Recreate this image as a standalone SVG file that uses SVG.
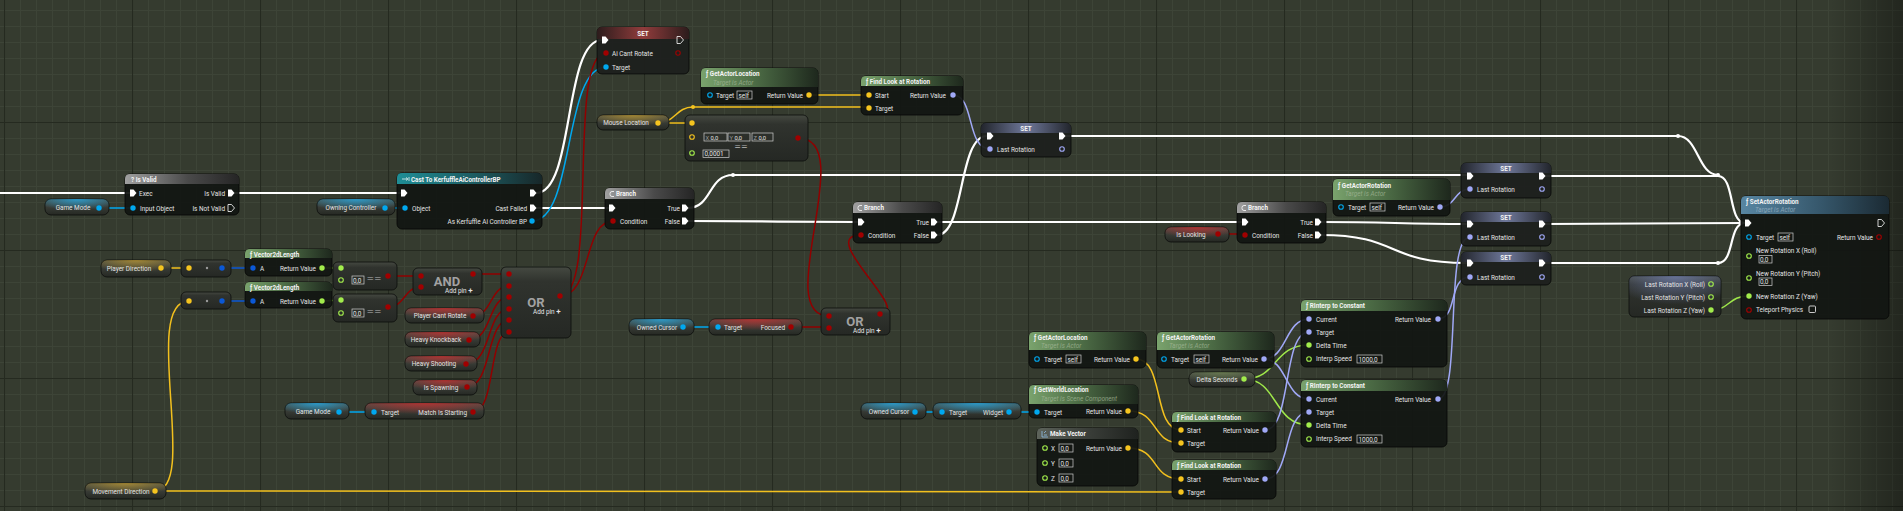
<svg xmlns="http://www.w3.org/2000/svg" width="1903" height="511" viewBox="0 0 1903 511">
<defs>
<pattern id="minor" width="16" height="16" patternUnits="userSpaceOnUse" x="4" y="10"><path d="M0,0.5H16M0.5,0V16" stroke="#3d4437" stroke-width="1" fill="none"/></pattern>
<pattern id="major" width="128" height="128" patternUnits="userSpaceOnUse" x="4" y="-6"><path d="M0,0.5H128M0.5,0V128" stroke="#252a20" stroke-width="1.2" fill="none"/></pattern>
<linearGradient id="gFunc" x1="0" y1="0" x2="1" y2="0"><stop offset="0" stop-color="#7aa36d"/><stop offset=".45" stop-color="#4d6d46"/><stop offset="1" stop-color="#1e281d"/></linearGradient>
<linearGradient id="gGray" x1="0" y1="0" x2="1" y2="0"><stop offset="0" stop-color="#5d635b"/><stop offset=".5" stop-color="#3a3e39"/><stop offset="1" stop-color="#1f221f"/></linearGradient>
<linearGradient id="gMacro" x1="0" y1="0" x2="1" y2="0"><stop offset="0" stop-color="#a0a0a0"/><stop offset=".55" stop-color="#4a4a4a"/><stop offset="1" stop-color="#252525"/></linearGradient>
<linearGradient id="gCast" x1="0" y1="0" x2="1" y2="0"><stop offset="0" stop-color="#1f8e96"/><stop offset=".55" stop-color="#1d5a60"/><stop offset="1" stop-color="#172729"/></linearGradient>
<linearGradient id="gImp" x1="0" y1="0" x2="1" y2="0"><stop offset="0" stop-color="#5886a2"/><stop offset=".55" stop-color="#35566a"/><stop offset="1" stop-color="#1b2a33"/></linearGradient>
<linearGradient id="gSet" x1="0" y1="0" x2="1" y2="0"><stop offset="0" stop-color="#22252c"/><stop offset=".5" stop-color="#6f789a"/><stop offset="1" stop-color="#22252c"/></linearGradient>
<linearGradient id="gSetR" x1="0" y1="0" x2="1" y2="0"><stop offset="0" stop-color="#2c1c1c"/><stop offset=".5" stop-color="#903c3c"/><stop offset="1" stop-color="#2c1c1c"/></linearGradient>
<linearGradient id="pill" x1="0" y1="0" x2="0" y2="1"><stop offset="0" stop-color="#4b4f48"/><stop offset="1" stop-color="#252823"/></linearGradient>
<linearGradient id="cg" x1="0" y1="0" x2="0" y2="1"><stop offset="0" stop-color="#454941"/><stop offset=".2" stop-color="#30332e"/><stop offset="1" stop-color="#252824"/></linearGradient>
<radialGradient id="glR" cx=".5" cy="0" r=".7"><stop offset="0" stop-color="#c03030" stop-opacity=".85"/><stop offset="1" stop-color="#c03030" stop-opacity="0"/></radialGradient>
<radialGradient id="glB" cx=".5" cy="0" r=".7"><stop offset="0" stop-color="#28a8e0" stop-opacity=".85"/><stop offset="1" stop-color="#28a8e0" stop-opacity="0"/></radialGradient>
<radialGradient id="glY" cx=".5" cy="0" r=".7"><stop offset="0" stop-color="#c8a030" stop-opacity=".7"/><stop offset="1" stop-color="#c8a030" stop-opacity="0"/></radialGradient>
<radialGradient id="glG" cx=".5" cy="0" r=".7"><stop offset="0" stop-color="#8fb060" stop-opacity=".45"/><stop offset="1" stop-color="#8fb060" stop-opacity="0"/></radialGradient>
<radialGradient id="glV" cx=".5" cy="0" r=".7"><stop offset="0" stop-color="#8090d0" stop-opacity=".6"/><stop offset="1" stop-color="#8090d0" stop-opacity="0"/></radialGradient>
<linearGradient id="vig" x1="0" y1="0" x2="1" y2="0"><stop offset="0" stop-color="#000" stop-opacity="0"/><stop offset="1" stop-color="#000" stop-opacity=".35"/></linearGradient>
<path id="ex" d="M-3,-3.5H0.5L3.5,0L0.5,3.5H-3Z"/>
</defs>
<style>
.t{font-family:Roboto,"Liberation Sans",sans-serif;font-size:6.4px;fill:#e4e4e4}
.tb{font-weight:bold;fill:#f4f4f4;font-size:6.3px}
.ts{font-style:italic;fill:#a4b898;opacity:.75}
.m{text-anchor:middle}
.e{text-anchor:end}
.big{font-family:Roboto,"Liberation Sans",sans-serif;font-size:13px;font-weight:bold;fill:#a2a2a2;text-anchor:middle}
.eq{font-family:"DejaVu Sans",sans-serif;font-size:9px;fill:#b8b8b8;text-anchor:middle}
.bx{fill:none;stroke:#cfcfcf;stroke-width:.7}
.body{fill:#121512;fill-opacity:.93;stroke:#050605;stroke-width:.8}
.cb{fill:url(#cg);stroke:#0b0c0b;stroke-width:.8}
.sb{fill:#1d201d;fill-opacity:.95;stroke:#060706;stroke-width:.8}
.pl{fill:url(#pill);stroke:#0b0c0b;stroke-width:.8}
.w{fill:none;stroke-width:1.5}
.wx{fill:none;stroke:#ffffff;stroke-width:2.2}
.wr{stroke:#900000}.wo{stroke:#00a8ef}.wy{stroke:#f2c01e}.wg{stroke:#9fe84a}.wv{stroke:#a0a8f6}.wd{stroke:#0b58d6}
.xf{fill:#ffffff}.xh{fill:none;stroke:#ffffff;stroke-width:.8}
.pr{fill:#a00000}.po{fill:#00a8ef}.py{fill:#f5c41f}.pg{fill:#a2ec4c}.pv{fill:#a0a8f6}.pd{fill:#0b58d6}
.hr{fill:none;stroke:#a00000;stroke-width:1.1}.ho{fill:none;stroke:#00a8ef;stroke-width:1.1}.hy{fill:none;stroke:#f5c41f;stroke-width:1.1}.hg{fill:none;stroke:#a2ec4c;stroke-width:1.1}.hv{fill:none;stroke:#a0a8f6;stroke-width:1.1}
.dot{fill:#ffffff}
</style>

<g id="background">
<rect width="1903" height="511" fill="#353b2f"/>
<rect width="1903" height="511" fill="url(#minor)"/>
<rect width="1903" height="511" fill="url(#major)"/>
<rect x="1830" width="73" height="511" fill="url(#vig)"/>
</g>

<g id="connectors">
<path class="wx" d="M0,193H130"/>
<path class="wx" d="M234,193H401"/>
<path class="wx" d="M536,193C575,193 563,40 602,40"/>
<path class="wx" d="M536,208H609"/>
<path class="wx" d="M688,208C712,208 708,175 733,175H1467"/>
<path class="wx" d="M688,221C760,221 790,222 858,222"/>
<path class="wx" d="M937,222H1242"/>
<path class="wx" d="M937,235C965,235 958,136 987,136"/>
<path class="wx" d="M1065,136H1678C1698,136 1698,175 1718,175"/>
<path class="wx" d="M1545,176H1718C1735,176 1728,223 1745,223"/>
<path class="wx" d="M1321,222C1390,222 1400,224 1467,224"/>
<path class="wx" d="M1321,235C1400,235 1385,263 1467,263"/>
<path class="wx" d="M1545,224C1640,224 1680,223 1745,223"/>
<path class="wx" d="M1545,263H1718C1735,263 1728,223 1745,223"/>
<circle class="dot" cx="733" cy="175" r="2"/>
<circle class="dot" cx="1678" cy="136" r="2"/>
<circle class="dot" cx="1718" cy="175" r="2"/>
<circle class="dot" cx="1718" cy="263" r="2"/>
<path class="w wo" d="M99,208H133"/>
<path class="w wo" d="M385,208H405"/>
<path class="w wo" d="M532,221C575,221 563,67 606,67"/>
<path class="w wo" d="M683,327H718"/>
<path class="w wo" d="M339,412H374"/>
<path class="w wo" d="M915,412H942"/>
<path class="w wo" d="M1009,412H1037"/>
<path class="w wr" d="M560,296C600,296 566,53 606,53"/>
<path class="w wr" d="M560,296C592,296 583,221 613,221"/>
<path class="w wr" d="M388,276H421"/>
<path class="w wr" d="M388,307C405,307 404,287 421,287"/>
<path class="w wr" d="M473,274H509"/>
<path class="w wr" d="M473,316C492,316 490,286 509,286"/>
<path class="w wr" d="M469,340C492,340 488,297 509,297"/>
<path class="w wr" d="M466,364C492,364 486,309 509,309"/>
<path class="w wr" d="M467,387C492,387 486,320 509,320"/>
<path class="w wr" d="M473,412C496,412 488,332 509,332"/>
<path class="w wr" d="M798,138C860,138 770,316 829,316"/>
<path class="w wr" d="M791,327H829"/>
<path class="w wr" d="M880,314C915,314 815,235 861,235"/>
<path class="w wr" d="M1218,234H1245"/>
<path class="w wy" d="M161,268H189"/>
<path class="w wy" d="M155,491C200,491 140,301 189,301"/>
<path class="w wy" d="M155,491C600,491 900,492 1181,492"/>
<path class="w wy" d="M658,123C675,123 676,107 693,107H869"/>
<path class="w wy" d="M658,123H692"/>
<path class="w wy" d="M809,95H869"/>
<path class="w wy" d="M1136,359C1165,359 1152,430 1181,430"/>
<path class="w wy" d="M1128,411C1160,411 1150,443 1181,443"/>
<path class="w wy" d="M1128,448C1160,448 1150,479 1181,479"/>
<circle cx="693" cy="107" r="2" class="py"/>
<path class="w wd" d="M222,268H253"/>
<path class="w wd" d="M222,301H253"/>
<path class="w wg" d="M322,268H341"/>
<path class="w wg" d="M322,301C332,301 331,300 341,300"/>
<path class="w wg" d="M1244,379C1278,379 1273,345 1309,345"/>
<path class="w wg" d="M1244,379C1278,379 1273,425 1309,425"/>
<path class="w wg" d="M1711,310C1730,310 1728,296 1749,296"/>
<path class="w wv" d="M953,95C975,95 966,149 990,149"/>
<path class="w wv" d="M1440,207C1456,207 1454,189 1470,189"/>
<path class="w wv" d="M1264,359C1287,359 1285,319 1309,319"/>
<path class="w wv" d="M1264,359C1287,359 1285,399 1309,399"/>
<path class="w wv" d="M1265,430C1292,430 1282,332 1309,332"/>
<path class="w wv" d="M1265,479C1292,479 1282,412 1309,412"/>
<path class="w wv" d="M1438,319C1458,319 1448,277 1470,277"/>
<path class="w wv" d="M1438,399C1462,399 1444,237 1470,237"/>
</g>

<g id="n-gamemode1"><rect class="pl" x="45" y="199" width="64" height="16" rx="6"/><rect x="45" y="199" width="64" height="16" rx="6" fill="url(#glB)"/><text class="t m" x="73" y="209.5">Game Mode</text><circle class="po" cx="99" cy="208" r="2.7"/></g>

<g id="n-isvalid"><rect class="body" x="125" y="174" width="114" height="41" rx="5"/><path d="M125,184V179Q125,174 130,174H234Q239,174 239,179V184Z" fill="url(#gMacro)"/>
<text class="t tb" x="131" y="182">?  Is Valid</text>
<use href="#ex" x="133" y="193" class="xf"/><text class="t" x="139" y="195.5">Exec</text>
<text class="t e" x="225" y="195.5">Is Valid</text><use href="#ex" x="231" y="193" class="xf"/>
<circle class="po" cx="133" cy="208" r="2.7"/><text class="t" x="140" y="210.5">Input Object</text>
<text class="t e" x="225" y="210.5">Is Not Valid</text><use href="#ex" x="231" y="208" class="xh"/></g>

<g id="n-owningcontroller"><rect class="pl" x="317" y="199" width="78" height="16" rx="6"/><rect x="317" y="199" width="78" height="16" rx="6" fill="url(#glB)"/><text class="t m" x="351" y="209.5">Owning Controller</text><circle class="po" cx="385" cy="208" r="2.7"/></g>

<g id="n-cast"><rect class="body" x="397" y="173" width="145" height="56" rx="5"/><path d="M397,184V178Q397,173 402,173H537Q542,173 542,178V184Z" fill="url(#gCast)"/>
<path d="M402,179H407M406,177.5L408,179L406,180.5M409,177V181" stroke="#fff" stroke-width=".7" fill="none"/>
<text class="t tb" x="411" y="181.5">Cast To KerfuffleAiControllerBP</text>
<use href="#ex" x="404" y="193" class="xf"/><use href="#ex" x="533" y="193" class="xf"/>
<circle class="po" cx="405" cy="208" r="2.7"/><text class="t" x="412" y="210.5">Object</text>
<text class="t e" x="527" y="210.5">Cast Failed</text><use href="#ex" x="533" y="208" class="xf"/>
<text class="t e" x="527" y="223.5">As Kerfuffle Ai Controller BP</text><circle class="po" cx="532" cy="221" r="2.7"/></g>

<g id="n-set-aicantrotate"><rect class="sb" x="597" y="27" width="92" height="47" rx="5"/><path d="M597,39V32Q597,27 602,27H684Q689,27 689,32V39Z" fill="url(#gSetR)"/>
<text class="t tb m" x="643" y="35.5">SET</text>
<use href="#ex" x="605" y="40" class="xf"/><use href="#ex" x="680" y="40" class="xh"/>
<circle class="pr" cx="606" cy="53" r="2.7"/><text class="t" x="612" y="55.5">Ai Cant Rotate</text><circle class="hr" cx="678" cy="53" r="2.2"/>
<circle class="po" cx="606" cy="67" r="2.7"/><text class="t" x="612" y="69.5">Target</text></g>

<g id="n-mouselocation"><rect class="pl" x="597" y="115" width="72" height="15" rx="6"/><rect x="597" y="115" width="72" height="15" rx="6" fill="url(#glY)"/><text class="t m" x="626" y="125">Mouse Location</text><circle class="py" cx="658" cy="123" r="2.7"/></g>

<g id="n-getactorlocation1"><rect class="body" x="701" y="68" width="117" height="36" rx="5"/><path d="M701,87V73Q701,68 706,68H813Q818,68 818,73V87Z" fill="url(#gFunc)"/>
<text class="t tb" x="706" y="76">ƒ GetActorLocation</text><text class="t ts" x="713" y="84.5">Target is Actor</text>
<circle class="ho" cx="710" cy="95" r="2.3"/><text class="t" x="716" y="97.5">Target</text><rect class="bx" x="737" y="91" width="15" height="8"/><text class="t" x="738.5" y="97.5">self</text>
<text class="t e" x="803" y="97.5">Return Value</text><circle class="py" cx="809" cy="95" r="2.7"/></g>

<g id="n-findlook1"><rect class="body" x="861" y="76" width="102" height="39" rx="5"/><path d="M861,86V81Q861,76 866,76H958Q963,76 963,81V86Z" fill="url(#gFunc)"/>
<text class="t tb" x="866" y="83.5">ƒ Find Look at Rotation</text>
<circle class="py" cx="869" cy="95" r="2.7"/><text class="t" x="875" y="97.5">Start</text>
<circle class="py" cx="869" cy="108" r="2.7"/><text class="t" x="875" y="110.5">Target</text>
<text class="t e" x="946" y="97.5">Return Value</text><circle class="pv" cx="953" cy="95" r="2.7"/></g>

<g id="n-vecequal"><rect class="cb" x="685" y="115" width="123" height="46" rx="5"/>
<circle class="py" cx="692" cy="123" r="2.7"/>
<circle class="hy" cx="692" cy="137" r="2.3"/>
<rect class="bx" x="704" y="133" width="23" height="8"/><text class="t" x="705.5" y="139.5" style="font-size:5.8px"><tspan fill="#999">X</tspan> 0,0</text>
<rect class="bx" x="728" y="133" width="22" height="8"/><text class="t" x="729.5" y="139.5" style="font-size:5.8px"><tspan fill="#999">Y</tspan> 0,0</text>
<rect class="bx" x="752" y="133" width="21" height="8"/><text class="t" x="753.5" y="139.5" style="font-size:5.8px"><tspan fill="#999">Z</tspan> 0,0</text>
<text class="eq" x="741" y="148.5" style="font-size:8px">==</text>
<circle class="hg" cx="692" cy="153" r="2.3"/><rect class="bx" x="703" y="150" width="26" height="7.5"/><text class="t" x="704.5" y="156">0,0001</text>
<circle class="pr" cx="798" cy="138" r="2.7"/></g>

<g id="n-branch1"><rect class="body" x="605" y="188" width="89" height="41" rx="5"/><path d="M605,199V193Q605,188 610,188H689Q694,188 694,193V199Z" fill="url(#gMacro)"/>
<path d="M614,191.5H612Q610,191.5 610,193.5V194.5Q610,196.5 612,196.5H614" stroke="#fff" stroke-width=".8" fill="none"/>
<text class="t tb" x="616" y="196">Branch</text>
<use href="#ex" x="612" y="208" class="xf"/><circle class="pr" cx="613" cy="221" r="2.7"/><text class="t" x="620" y="223.5">Condition</text>
<text class="t e" x="680" y="210.5">True</text><use href="#ex" x="685" y="208" class="xf"/>
<text class="t e" x="680" y="223.5">False</text><use href="#ex" x="685" y="221" class="xf"/></g>

<g id="n-playerdirection"><rect class="pl" x="101" y="260" width="70" height="17" rx="6"/><rect x="101" y="260" width="70" height="17" rx="6" fill="url(#glY)"/><text class="t m" x="129" y="270.5">Player Direction</text><circle class="py" cx="161" cy="268" r="2.7"/></g>

<g id="n-dot1"><rect class="cb" x="181" y="260" width="50" height="17" rx="5"/><circle class="py" cx="189" cy="268" r="2.7"/><circle cx="207" cy="268" r="1.2" fill="#9a9a9a"/><circle class="pd" cx="222" cy="268" r="2.7"/></g>
<g id="n-dot2"><rect class="cb" x="181" y="292" width="50" height="17" rx="5"/><circle class="py" cx="189" cy="301" r="2.7"/><circle cx="207" cy="301" r="1.2" fill="#9a9a9a"/><circle class="pd" cx="222" cy="301" r="2.7"/></g>

<g id="n-v2dlength1"><rect class="body" x="245" y="249" width="87" height="27" rx="5"/><path d="M245,258V254Q245,249 250,249H327Q332,249 332,254V258Z" fill="url(#gFunc)"/>
<text class="t tb" x="250" y="256.5">ƒ Vector2dLength</text>
<circle class="pd" cx="253" cy="268" r="2.7"/><text class="t" x="260" y="270.5">A</text>
<text class="t e" x="316" y="270.5">Return Value</text><circle class="pg" cx="322" cy="268" r="2.7"/></g>
<g id="n-v2dlength2"><rect class="body" x="245" y="282" width="87" height="26" rx="5"/><path d="M245,291V287Q245,282 250,282H327Q332,282 332,287V291Z" fill="url(#gFunc)"/>
<text class="t tb" x="250" y="289.5">ƒ Vector2dLength</text>
<circle class="pd" cx="253" cy="301" r="2.7"/><text class="t" x="260" y="303.5">A</text>
<text class="t e" x="316" y="303.5">Return Value</text><circle class="pg" cx="322" cy="301" r="2.7"/></g>

<g id="n-eq1"><rect class="cb" x="333" y="262" width="64" height="28" rx="5"/><circle class="pg" cx="341" cy="268" r="2.7"/><circle class="hg" cx="341" cy="280" r="2.3"/><rect class="bx" x="352" y="276" width="12" height="8"/><text class="t" x="353" y="282.5">0,0</text><text class="eq" x="374" y="281">==</text><circle class="pr" cx="388" cy="276" r="2.7"/></g>
<g id="n-eq2"><rect class="cb" x="333" y="294" width="64" height="28" rx="5"/><circle class="pg" cx="341" cy="300" r="2.7"/><circle class="hg" cx="341" cy="313" r="2.3"/><rect class="bx" x="352" y="309" width="12" height="8"/><text class="t" x="353" y="315.5">0,0</text><text class="eq" x="374" y="314">==</text><circle class="pr" cx="388" cy="307" r="2.7"/></g>

<g id="n-and"><rect class="cb" x="413" y="268" width="69" height="27" rx="5"/><text class="big" x="447" y="286">AND</text><text class="t" x="445" y="293">Add pin <tspan font-weight="bold" font-size="8">+</tspan></text>
<circle class="pr" cx="421" cy="276" r="2.7"/><circle class="pr" cx="421" cy="287" r="2.7"/><circle class="pr" cx="473" cy="274" r="2.7"/></g>

<g id="n-or1"><rect class="cb" x="501" y="267" width="70" height="71" rx="5"/><text class="big" x="536" y="307">OR</text><text class="t" x="533" y="314">Add pin <tspan font-weight="bold" font-size="8">+</tspan></text>
<circle class="pr" cx="509" cy="274" r="2.7"/><circle class="pr" cx="509" cy="286" r="2.7"/><circle class="pr" cx="509" cy="297" r="2.7"/><circle class="pr" cx="509" cy="309" r="2.7"/><circle class="pr" cx="509" cy="320" r="2.7"/><circle class="pr" cx="509" cy="332" r="2.7"/><circle class="pr" cx="560" cy="296" r="2.7"/></g>

<g id="n-playercantrotate"><rect class="pl" x="405" y="308" width="79" height="15" rx="6"/><rect x="405" y="308" width="79" height="15" rx="6" fill="url(#glR)"/><text class="t m" x="440" y="318">Player Cant Rotate</text><circle class="pr" cx="473" cy="316" r="2.7"/></g>
<g id="n-heavyknockback"><rect class="pl" x="405" y="332" width="75" height="15" rx="6"/><rect x="405" y="332" width="75" height="15" rx="6" fill="url(#glR)"/><text class="t m" x="436" y="342">Heavy Knockback</text><circle class="pr" cx="469" cy="340" r="2.7"/></g>
<g id="n-heavyshooting"><rect class="pl" x="405" y="356" width="72" height="15" rx="6"/><rect x="405" y="356" width="72" height="15" rx="6" fill="url(#glR)"/><text class="t m" x="434" y="366">Heavy Shooting</text><circle class="pr" cx="466" cy="364" r="2.7"/></g>
<g id="n-isspawning"><rect class="pl" x="413" y="380" width="64" height="15" rx="6"/><rect x="413" y="380" width="64" height="15" rx="6" fill="url(#glR)"/><text class="t m" x="441" y="390">Is Spawning</text><circle class="pr" cx="467" cy="387" r="2.7"/></g>

<g id="n-gamemode2"><rect class="pl" x="285" y="403" width="64" height="16" rx="6"/><rect x="285" y="403" width="64" height="16" rx="6" fill="url(#glB)"/><text class="t m" x="313" y="413.5">Game Mode</text><circle class="po" cx="339" cy="412" r="2.7"/></g>
<g id="n-matchisstarting"><rect class="pl" x="365" y="403" width="119" height="16" rx="6"/><rect x="365" y="403" width="119" height="16" rx="6" fill="url(#glR)"/><circle class="po" cx="374" cy="412" r="2.7"/><text class="t" x="381" y="414.5">Target</text><text class="t e" x="467" y="414.5">Match Is Starting</text><circle class="pr" cx="473" cy="412" r="2.7"/></g>

<g id="n-movementdirection"><rect class="pl" x="85" y="483" width="81" height="16" rx="6"/><rect x="85" y="483" width="81" height="16" rx="6" fill="url(#glY)"/><text class="t m" x="121" y="493.5">Movement Direction</text><circle class="py" cx="155" cy="491" r="2.7"/></g>

<g id="n-ownedcursor1"><rect class="pl" x="629" y="319" width="65" height="16" rx="6"/><rect x="629" y="319" width="65" height="16" rx="6" fill="url(#glB)"/><text class="t m" x="657" y="329.5">Owned Cursor</text><circle class="po" cx="683" cy="327" r="2.7"/></g>
<g id="n-focused"><rect class="pl" x="709" y="319" width="93" height="16" rx="6"/><rect x="709" y="319" width="93" height="16" rx="6" fill="url(#glR)"/><circle class="po" cx="718" cy="327" r="2.7"/><text class="t" x="724" y="329.5">Target</text><text class="t e" x="785" y="329.5">Focused</text><circle class="pr" cx="791" cy="327" r="2.7"/></g>

<g id="n-or2"><rect class="cb" x="821" y="308" width="69" height="27" rx="5"/><text class="big" x="855" y="326">OR</text><text class="t" x="853" y="333">Add pin <tspan font-weight="bold" font-size="8">+</tspan></text>
<circle class="pr" cx="829" cy="316" r="2.7"/><circle class="pr" cx="829" cy="328" r="2.7"/><circle class="pr" cx="880" cy="314" r="2.7"/></g>

<g id="n-branch2"><rect class="body" x="853" y="202" width="89" height="41" rx="5"/><path d="M853,213V207Q853,202 858,202H937Q942,202 942,207V213Z" fill="url(#gMacro)"/>
<path d="M862,205.5H860Q858,205.5 858,207.5V208.5Q858,210.5 860,210.5H862" stroke="#fff" stroke-width=".8" fill="none"/>
<text class="t tb" x="864" y="210">Branch</text>
<use href="#ex" x="861" y="222" class="xf"/><circle class="pr" cx="861" cy="235" r="2.7"/><text class="t" x="868" y="237.5">Condition</text>
<text class="t e" x="929" y="224.5">True</text><use href="#ex" x="934" y="222" class="xf"/>
<text class="t e" x="929" y="237.5">False</text><use href="#ex" x="934" y="235" class="xf"/></g>

<g id="n-set-mid"><rect class="sb" x="981" y="123" width="90" height="34" rx="5"/><path d="M981,133V128Q981,123 986,123H1066Q1071,123 1071,128V133Z" fill="url(#gSet)"/>
<text class="t tb m" x="1026" y="131">SET</text>
<use href="#ex" x="990" y="136" class="xf"/><use href="#ex" x="1062" y="136" class="xf"/>
<circle class="pv" cx="990" cy="149" r="2.7"/><text class="t" x="997" y="151.5">Last Rotation</text><circle class="hv" cx="1062" cy="149" r="2.3"/></g>

<g id="n-islooking"><rect class="pl" x="1165" y="227" width="64" height="15" rx="6"/><rect x="1165" y="227" width="64" height="15" rx="6" fill="url(#glR)"/><text class="t m" x="1191" y="237">Is Looking</text><circle class="pr" cx="1218" cy="234" r="2.7"/></g>

<g id="n-branch3"><rect class="body" x="1237" y="202" width="89" height="41" rx="5"/><path d="M1237,213V207Q1237,202 1242,202H1321Q1326,202 1326,207V213Z" fill="url(#gMacro)"/>
<path d="M1246,205.5H1244Q1242,205.5 1242,207.5V208.5Q1242,210.5 1244,210.5H1246" stroke="#fff" stroke-width=".8" fill="none"/>
<text class="t tb" x="1248" y="210">Branch</text>
<use href="#ex" x="1245" y="222" class="xf"/><circle class="pr" cx="1245" cy="235" r="2.7"/><text class="t" x="1252" y="237.5">Condition</text>
<text class="t e" x="1313" y="224.5">True</text><use href="#ex" x="1318" y="222" class="xf"/>
<text class="t e" x="1313" y="237.5">False</text><use href="#ex" x="1318" y="235" class="xf"/></g>

<g id="n-getactorrotation1"><rect class="body" x="1333" y="179" width="117" height="37" rx="5"/><path d="M1333,200V184Q1333,179 1338,179H1445Q1450,179 1450,184V200Z" fill="url(#gFunc)"/>
<text class="t tb" x="1338" y="187.5">ƒ GetActorRotation</text><text class="t ts" x="1345" y="195.5">Target is Actor</text>
<circle class="ho" cx="1341" cy="207" r="2.3"/><text class="t" x="1348" y="209.5">Target</text><rect class="bx" x="1370" y="203" width="15" height="8"/><text class="t" x="1371.5" y="209.5">self</text>
<text class="t e" x="1434" y="209.5">Return Value</text><circle class="pv" cx="1440" cy="207" r="2.7"/></g>

<g id="n-set1"><rect class="sb" x="1461" y="163" width="90" height="35" rx="5"/><path d="M1461,173V168Q1461,163 1466,163H1546Q1551,163 1551,168V173Z" fill="url(#gSet)"/>
<text class="t tb m" x="1506" y="171">SET</text>
<use href="#ex" x="1470" y="176" class="xf"/><use href="#ex" x="1542" y="176" class="xf"/>
<circle class="pv" cx="1470" cy="189" r="2.7"/><text class="t" x="1477" y="191.5">Last Rotation</text><circle class="hv" cx="1542" cy="189" r="2.3"/></g>
<g id="n-set2"><rect class="sb" x="1461" y="212" width="90" height="34" rx="5"/><path d="M1461,222V217Q1461,212 1466,212H1546Q1551,212 1551,217V222Z" fill="url(#gSet)"/>
<text class="t tb m" x="1506" y="219.5">SET</text>
<use href="#ex" x="1470" y="224" class="xf"/><use href="#ex" x="1542" y="224" class="xf"/>
<circle class="pv" cx="1470" cy="237" r="2.7"/><text class="t" x="1477" y="239.5">Last Rotation</text><circle class="hv" cx="1542" cy="237" r="2.3"/></g>
<g id="n-set3"><rect class="sb" x="1461" y="252" width="90" height="33" rx="5"/><path d="M1461,262V257Q1461,252 1466,252H1546Q1551,252 1551,257V262Z" fill="url(#gSet)"/>
<text class="t tb m" x="1506" y="259.5">SET</text>
<use href="#ex" x="1470" y="263" class="xf"/><use href="#ex" x="1542" y="263" class="xf"/>
<circle class="pv" cx="1470" cy="277" r="2.7"/><text class="t" x="1477" y="279.5">Last Rotation</text><circle class="hv" cx="1542" cy="277" r="2.3"/></g>

<g id="n-breakrot"><rect class="cb" x="1629" y="276" width="92" height="41" rx="5"/><rect x="1629" y="276" width="92" height="41" rx="5" fill="url(#glV)"/>
<text class="t e" x="1705" y="286.5">Last Rotation X (Roll)</text><circle class="hg" cx="1711" cy="284" r="2.3"/>
<text class="t e" x="1705" y="299.5">Last Rotation Y (Pitch)</text><circle class="hg" cx="1711" cy="297" r="2.3"/>
<text class="t e" x="1705" y="312.5">Last Rotation Z (Yaw)</text><circle class="pg" cx="1711" cy="310" r="2.7"/></g>

<g id="n-setactorrotation"><rect class="body" x="1741" y="196" width="148" height="123" rx="5"/><path d="M1741,214V201Q1741,196 1746,196H1884Q1889,196 1889,201V214Z" fill="url(#gImp)"/>
<text class="t tb" x="1746" y="203.5">ƒ SetActorRotation</text><text class="t ts" x="1755" y="211.5" style="fill:#9cb4c4">Target is Actor</text>
<use href="#ex" x="1748" y="223" class="xf"/><use href="#ex" x="1881" y="223" class="xh"/>
<circle class="ho" cx="1749" cy="237" r="2.3"/><text class="t" x="1756" y="239.5">Target</text><rect class="bx" x="1778" y="233" width="15" height="8"/><text class="t" x="1779.5" y="239.5">self</text>
<text class="t e" x="1873" y="239.5">Return Value</text><circle class="hr" cx="1879" cy="237" r="2.3"/>
<circle class="hg" cx="1749" cy="256" r="2.3"/><text class="t" x="1756" y="253">New Rotation X (Roll)</text><rect class="bx" x="1759" y="255.5" width="13" height="7.5"/><text class="t" x="1760" y="261.5">0,0</text>
<circle class="hg" cx="1749" cy="278" r="2.3"/><text class="t" x="1756" y="275.5">New Rotation Y (Pitch)</text><rect class="bx" x="1759" y="278" width="13" height="7.5"/><text class="t" x="1760" y="284">0,0</text>
<circle class="pg" cx="1749" cy="296" r="2.7"/><text class="t" x="1756" y="298.5">New Rotation Z (Yaw)</text>
<circle class="hr" cx="1749" cy="310" r="2.3"/><text class="t" x="1756" y="311.5">Teleport Physics</text><rect x="1809" y="306" width="6.5" height="6.5" rx="1" fill="none" stroke="#ddd" stroke-width=".9"/></g>

<g id="n-ownedcursor2"><rect class="pl" x="861" y="403" width="65" height="16" rx="6"/><rect x="861" y="403" width="65" height="16" rx="6" fill="url(#glB)"/><text class="t m" x="889" y="413.5">Owned Cursor</text><circle class="po" cx="915" cy="412" r="2.7"/></g>
<g id="n-widget"><rect class="pl" x="933" y="403" width="88" height="16" rx="6"/><rect x="933" y="403" width="88" height="16" rx="6" fill="url(#glB)"/><circle class="po" cx="942" cy="412" r="2.7"/><text class="t" x="949" y="414.5">Target</text><text class="t e" x="1003" y="414.5">Widget</text><circle class="po" cx="1009" cy="412" r="2.7"/></g>

<g id="n-getactorlocation2"><rect class="body" x="1029" y="332" width="117" height="36" rx="5"/><path d="M1029,350V337Q1029,332 1034,332H1141Q1146,332 1146,337V350Z" fill="url(#gFunc)"/>
<text class="t tb" x="1034" y="340">ƒ GetActorLocation</text><text class="t ts" x="1041" y="348">Target is Actor</text>
<circle class="ho" cx="1037" cy="359" r="2.3"/><text class="t" x="1044" y="361.5">Target</text><rect class="bx" x="1066" y="355" width="15" height="8"/><text class="t" x="1067.5" y="361.5">self</text>
<text class="t e" x="1130" y="361.5">Return Value</text><circle class="py" cx="1136" cy="359" r="2.7"/></g>

<g id="n-getworldlocation"><rect class="body" x="1029" y="385" width="109" height="33" rx="5"/><path d="M1029,404V390Q1029,385 1034,385H1133Q1138,385 1138,390V404Z" fill="url(#gFunc)"/>
<text class="t tb" x="1034" y="392">ƒ GetWorldLocation</text><text class="t ts" x="1041" y="400.5">Target is Scene Component</text>
<circle class="po" cx="1037" cy="412" r="2.7"/><text class="t" x="1044" y="414.5">Target</text>
<text class="t e" x="1122" y="413.5">Return Value</text><circle class="py" cx="1128" cy="411" r="2.7"/></g>

<g id="n-makevector"><rect class="body" x="1037" y="428" width="101" height="58" rx="5"/><path d="M1037,439V433Q1037,428 1042,428H1133Q1138,428 1138,433V439Z" fill="url(#gGray)"/>
<path d="M1042,431V437H1048M1044,433L1046,431M1044,435H1047" stroke="#8fc0e8" stroke-width=".8" fill="none"/>
<text class="t tb" x="1050" y="436">Make Vector</text>
<circle class="hg" cx="1045" cy="448" r="2.3"/><text class="t" x="1051" y="450.5">X</text><rect class="bx" x="1059" y="444" width="14" height="8"/><text class="t" x="1060.5" y="450.5">0,0</text>
<circle class="hg" cx="1045" cy="463" r="2.3"/><text class="t" x="1051" y="465.5">Y</text><rect class="bx" x="1059" y="459" width="14" height="8"/><text class="t" x="1060.5" y="465.5">0,0</text>
<circle class="hg" cx="1045" cy="478" r="2.3"/><text class="t" x="1051" y="480.5">Z</text><rect class="bx" x="1059" y="474" width="14" height="8"/><text class="t" x="1060.5" y="480.5">0,0</text>
<text class="t e" x="1122" y="450.5">Return Value</text><circle class="py" cx="1128" cy="448" r="2.7"/></g>

<g id="n-getactorrotation2"><rect class="body" x="1157" y="332" width="117" height="36" rx="5"/><path d="M1157,350V337Q1157,332 1162,332H1269Q1274,332 1274,337V350Z" fill="url(#gFunc)"/>
<text class="t tb" x="1162" y="340">ƒ GetActorRotation</text><text class="t ts" x="1169" y="348">Target is Actor</text>
<circle class="ho" cx="1164" cy="359" r="2.3"/><text class="t" x="1171" y="361.5">Target</text><rect class="bx" x="1194" y="355" width="15" height="8"/><text class="t" x="1195.5" y="361.5">self</text>
<text class="t e" x="1258" y="361.5">Return Value</text><circle class="pv" cx="1264" cy="359" r="2.7"/></g>

<g id="n-deltaseconds"><rect class="pl" x="1189" y="372" width="66" height="15" rx="6"/><rect x="1189" y="372" width="66" height="15" rx="6" fill="url(#glG)"/><text class="t m" x="1217" y="382">Delta Seconds</text><circle class="pg" cx="1244" cy="379" r="2.7"/></g>

<g id="n-findlook2"><rect class="body" x="1172" y="412" width="104" height="40" rx="5"/><path d="M1172,422V417Q1172,412 1177,412H1271Q1276,412 1276,417V422Z" fill="url(#gFunc)"/>
<text class="t tb" x="1177" y="419.5">ƒ Find Look at Rotation</text>
<circle class="py" cx="1181" cy="430" r="2.7"/><text class="t" x="1187" y="432.5">Start</text>
<circle class="py" cx="1181" cy="443" r="2.7"/><text class="t" x="1187" y="445.5">Target</text>
<text class="t e" x="1259" y="432.5">Return Value</text><circle class="pv" cx="1265" cy="430" r="2.7"/></g>
<g id="n-findlook3"><rect class="body" x="1172" y="460" width="104" height="39" rx="5"/><path d="M1172,470V465Q1172,460 1177,460H1271Q1276,460 1276,465V470Z" fill="url(#gFunc)"/>
<text class="t tb" x="1177" y="467.5">ƒ Find Look at Rotation</text>
<circle class="py" cx="1181" cy="479" r="2.7"/><text class="t" x="1187" y="481.5">Start</text>
<circle class="py" cx="1181" cy="492" r="2.7"/><text class="t" x="1187" y="494.5">Target</text>
<text class="t e" x="1259" y="481.5">Return Value</text><circle class="pv" cx="1265" cy="479" r="2.7"/></g>

<g id="n-rinterp1"><rect class="body" x="1301" y="300" width="146" height="67" rx="5"/><path d="M1301,311V305Q1301,300 1306,300H1442Q1447,300 1447,305V311Z" fill="url(#gFunc)"/>
<text class="t tb" x="1306" y="308">ƒ RInterp to Constant</text>
<circle class="pv" cx="1309" cy="319" r="2.7"/><text class="t" x="1316" y="321.5">Current</text>
<circle class="pv" cx="1309" cy="332" r="2.7"/><text class="t" x="1316" y="334.5">Target</text>
<circle class="pg" cx="1309" cy="345" r="2.7"/><text class="t" x="1316" y="347.5">Delta Time</text>
<circle class="hg" cx="1309" cy="359" r="2.3"/><text class="t" x="1316" y="361">Interp Speed</text><rect class="bx" x="1357" y="355" width="25" height="8"/><text class="t" x="1358.5" y="361.5">1000,0</text>
<text class="t e" x="1431" y="321.5">Return Value</text><circle class="pv" cx="1438" cy="319" r="2.7"/></g>
<g id="n-rinterp2"><rect class="body" x="1301" y="380" width="146" height="67" rx="5"/><path d="M1301,391V385Q1301,380 1306,380H1442Q1447,380 1447,385V391Z" fill="url(#gFunc)"/>
<text class="t tb" x="1306" y="388">ƒ RInterp to Constant</text>
<circle class="pv" cx="1309" cy="399" r="2.7"/><text class="t" x="1316" y="401.5">Current</text>
<circle class="pv" cx="1309" cy="412" r="2.7"/><text class="t" x="1316" y="414.5">Target</text>
<circle class="pg" cx="1309" cy="425" r="2.7"/><text class="t" x="1316" y="427.5">Delta Time</text>
<circle class="hg" cx="1309" cy="439" r="2.3"/><text class="t" x="1316" y="441">Interp Speed</text><rect class="bx" x="1357" y="435" width="25" height="8"/><text class="t" x="1358.5" y="441.5">1000,0</text>
<text class="t e" x="1431" y="401.5">Return Value</text><circle class="pv" cx="1438" cy="399" r="2.7"/></g>
</svg>
